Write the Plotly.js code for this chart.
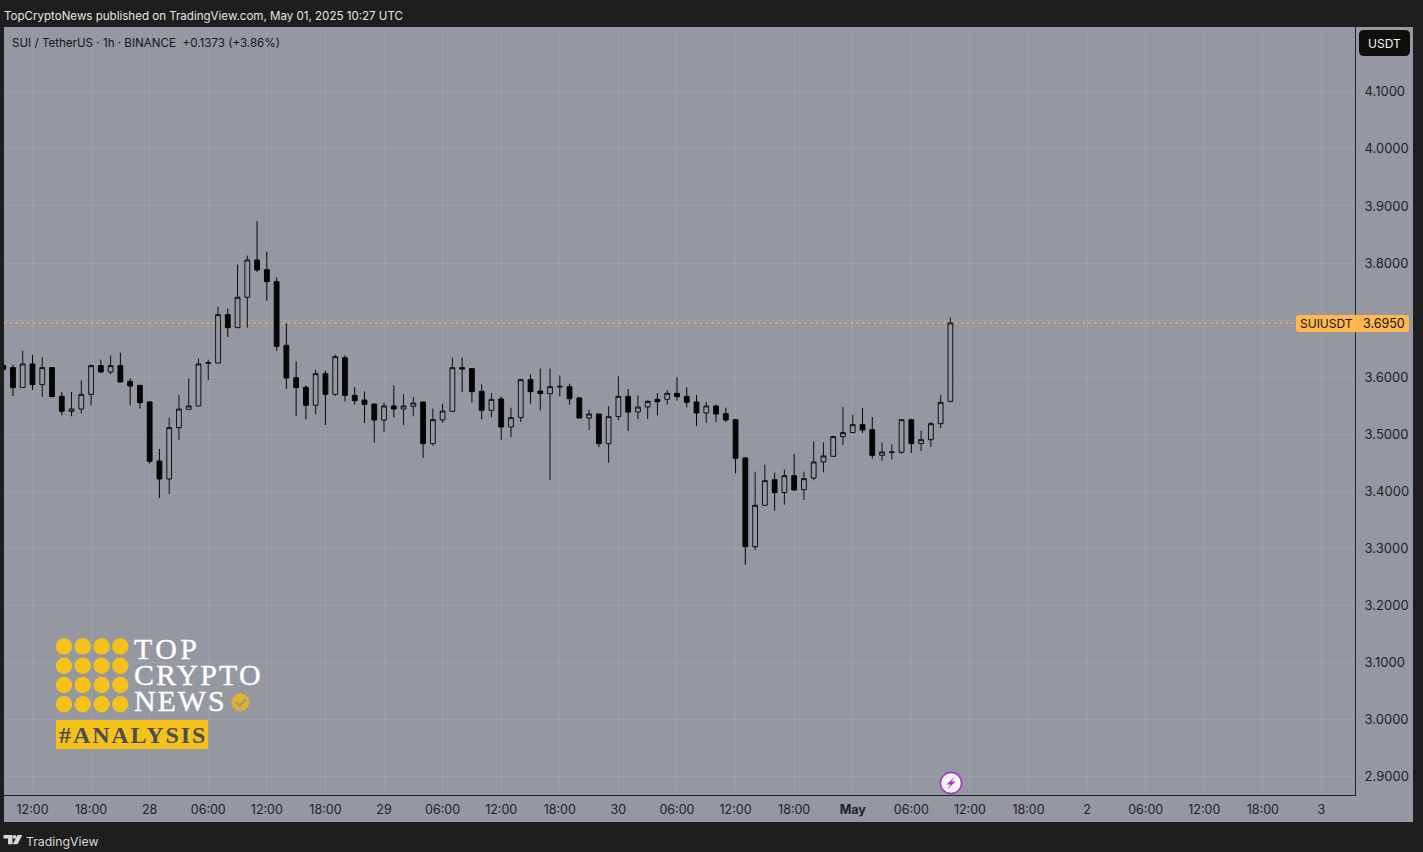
<!DOCTYPE html>
<html><head><meta charset="utf-8">
<script src="https://cdn.plot.ly/plotly-3.0.1.min.js"></script>
<style>html,body{margin:0;padding:0;background:#1e1e1e}#chart{width:1423px;height:852px}</style>
</head><body><div id="chart"></div>
<script>
const times = ['2025-04-27 09:00','2025-04-27 10:00','2025-04-27 11:00','2025-04-27 12:00','2025-04-27 13:00','2025-04-27 14:00','2025-04-27 15:00','2025-04-27 16:00','2025-04-27 17:00','2025-04-27 18:00','2025-04-27 19:00','2025-04-27 20:00','2025-04-27 21:00','2025-04-27 22:00','2025-04-27 23:00',
'2025-04-28 00:00','2025-04-28 01:00','2025-04-28 02:00','2025-04-28 03:00','2025-04-28 04:00','2025-04-28 05:00','2025-04-28 06:00','2025-04-28 07:00','2025-04-28 08:00','2025-04-28 09:00','2025-04-28 10:00','2025-04-28 11:00','2025-04-28 12:00','2025-04-28 13:00','2025-04-28 14:00','2025-04-28 15:00','2025-04-28 16:00','2025-04-28 17:00','2025-04-28 18:00','2025-04-28 19:00','2025-04-28 20:00','2025-04-28 21:00','2025-04-28 22:00','2025-04-28 23:00',
'2025-04-29 00:00','2025-04-29 01:00','2025-04-29 02:00','2025-04-29 03:00','2025-04-29 04:00','2025-04-29 05:00','2025-04-29 06:00','2025-04-29 07:00','2025-04-29 08:00','2025-04-29 09:00','2025-04-29 10:00','2025-04-29 11:00','2025-04-29 12:00','2025-04-29 13:00','2025-04-29 14:00','2025-04-29 15:00','2025-04-29 16:00','2025-04-29 17:00','2025-04-29 18:00','2025-04-29 19:00','2025-04-29 20:00','2025-04-29 21:00','2025-04-29 22:00','2025-04-29 23:00',
'2025-04-30 00:00','2025-04-30 01:00','2025-04-30 02:00','2025-04-30 03:00','2025-04-30 04:00','2025-04-30 05:00','2025-04-30 06:00','2025-04-30 07:00','2025-04-30 08:00','2025-04-30 09:00','2025-04-30 10:00','2025-04-30 11:00','2025-04-30 12:00','2025-04-30 13:00','2025-04-30 14:00','2025-04-30 15:00','2025-04-30 16:00','2025-04-30 17:00','2025-04-30 18:00','2025-04-30 19:00','2025-04-30 20:00','2025-04-30 21:00','2025-04-30 22:00','2025-04-30 23:00',
'2025-05-01 00:00','2025-05-01 01:00','2025-05-01 02:00','2025-05-01 03:00','2025-05-01 04:00','2025-05-01 05:00','2025-05-01 06:00','2025-05-01 07:00','2025-05-01 08:00','2025-05-01 09:00','2025-05-01 10:00'];
const opens = [3.6208,3.6168,3.5817,3.6232,3.5870,3.6168,3.5665,3.5402,3.5443,3.5700,3.6203,3.6092,3.6203,3.5928,3.5858,3.5566,3.4532,3.4217,3.5116,3.5437,3.5496,3.6243,3.6249,3.7096,3.6868,3.7400,3.8054,3.7884,3.7674,3.6559,3.5992,3.5823,3.5508,3.6062,3.5700,3.6342,3.5682,3.5601,3.5531,3.5250,3.5496,3.5443,3.5490,3.5566,3.4836,3.5250,3.5402,3.6167,3.6150,3.5753,3.5420,3.5618,3.5128,3.5291,3.5957,3.5758,3.5712,3.5828,3.5834,3.5636,3.5285,3.5355,3.4836,3.5309,3.5665,3.5390,3.5478,3.5612,3.5613,3.5718,3.5665,3.5566,3.5373,3.5496,3.5362,3.5256,3.4585,3.3031,3.3756,3.4205,3.3978,3.4275,3.4030,3.4234,3.4515,3.4614,3.4959,3.5029,3.5169,3.5081,3.4632,3.4678,3.4684,3.5256,3.4836,3.4906,3.5186,3.5577];
const highs = [3.6208,3.6220,3.6465,3.6395,3.6349,3.6168,3.5741,3.5741,3.5946,3.6220,3.6308,3.6378,3.6430,3.5981,3.5858,3.5584,3.4743,3.5291,3.5689,3.5981,3.6325,3.6308,3.7236,3.7201,3.7972,3.8130,3.8731,3.8200,3.7750,3.6944,3.6273,3.5858,3.6132,3.6115,3.6395,3.6383,3.5823,3.5753,3.5531,3.5554,3.5858,3.5706,3.5653,3.5566,3.5449,3.5536,3.6342,3.6342,3.6161,3.5875,3.5723,3.5665,3.5466,3.5974,3.6050,3.6150,3.6150,3.6033,3.5887,3.5653,3.5431,3.5355,3.5490,3.6015,3.5793,3.5682,3.5595,3.5723,3.5770,3.6000,3.5823,3.5689,3.5566,3.5519,3.5467,3.5268,3.4602,3.4345,3.4468,3.4328,3.4380,3.4655,3.4345,3.4877,3.4859,3.4976,3.5478,3.5344,3.5461,3.5303,3.4859,3.4824,3.5262,3.5274,3.5064,3.5216,3.5689,3.7044];
const lows = [3.6138,3.5671,3.5817,3.5776,3.5659,3.5659,3.5332,3.5315,3.5367,3.5502,3.6074,3.6051,3.5916,3.5502,3.5449,3.4486,3.3884,3.3954,3.4900,3.5437,3.5490,3.5946,3.6249,3.6705,3.6868,3.6868,3.7844,3.7341,3.6465,3.5794,3.5315,3.5262,3.5350,3.5163,3.5671,3.5577,3.5525,3.5198,3.4853,3.5040,3.5297,3.5163,3.5314,3.4590,3.4801,3.5198,3.5402,3.5741,3.5554,3.5262,3.5297,3.4900,3.4947,3.5215,3.5536,3.5420,3.4199,3.5659,3.5519,3.5285,3.5075,3.4777,3.4503,3.5244,3.5058,3.5268,3.5268,3.5332,3.5519,3.5589,3.5473,3.5146,3.5198,3.5216,3.5216,3.4316,3.2716,3.2973,3.3750,3.3662,3.3767,3.4013,3.3849,3.4194,3.4334,3.4608,3.4813,3.5023,3.5023,3.4573,3.4538,3.4561,3.4655,3.4672,3.4708,3.4778,3.5110,3.5560];
const closes = [3.6138,3.5817,3.6232,3.5870,3.6168,3.5659,3.5402,3.5443,3.5700,3.6203,3.6092,3.6203,3.5916,3.5846,3.5554,3.4527,3.4217,3.5116,3.5443,3.5496,3.6232,3.6255,3.7096,3.6868,3.7400,3.8054,3.7879,3.7674,3.6541,3.5986,3.5817,3.5508,3.6062,3.5700,3.6360,3.5682,3.5589,3.5525,3.5250,3.5496,3.5443,3.5496,3.5548,3.4836,3.5256,3.5408,3.6167,3.6144,3.5747,3.5420,3.5612,3.5128,3.5291,3.5957,3.5747,3.5712,3.5834,3.5840,3.5624,3.5285,3.5355,3.4836,3.5309,3.5665,3.5390,3.5478,3.5577,3.5571,3.5718,3.5659,3.5560,3.5373,3.5496,3.5356,3.5251,3.4579,3.3031,3.3756,3.4188,3.3978,3.4275,3.4024,3.4223,3.4515,3.4620,3.4959,3.5029,3.5169,3.5075,3.4632,3.4690,3.4690,3.5256,3.4836,3.4906,3.5186,3.5560,3.6950];
const xTickVals = ['2025-04-27 12:00','2025-04-27 18:00','2025-04-28 00:00','2025-04-28 06:00','2025-04-28 12:00','2025-04-28 18:00','2025-04-29 00:00','2025-04-29 06:00','2025-04-29 12:00','2025-04-29 18:00','2025-04-30 00:00','2025-04-30 06:00','2025-04-30 12:00','2025-04-30 18:00','2025-05-01 00:00','2025-05-01 06:00','2025-05-01 12:00','2025-05-01 18:00','2025-05-02 00:00','2025-05-02 06:00','2025-05-02 12:00','2025-05-02 18:00','2025-05-03 00:00'];
const xTickText = ['12:00','18:00','28','06:00','12:00','18:00','29','06:00','12:00','18:00','30','06:00','12:00','18:00','<b>May</b>','06:00','12:00','18:00','2','06:00','12:00','18:00','3'];
const yTickVals = [2.9,3.0,3.1,3.2,3.3,3.4,3.5,3.6,3.7,3.8,3.9,4.0,4.1];
const yTickText = ['2.9000','3.0000','3.1000','3.2000','3.3000','3.4000','3.5000','3.6000','','3.8000','3.9000','4.0000','4.1000'];
const lastPrice = 3.695;
const xRange = ['2025-04-27 09:05','2025-05-03 03:26'];
const yRange = [2.8681,4.2135];

const BG='#9598a1', DARK='#1e1e1e', INK='#131722', GOLD='#f5c21b', SANS='Inter, Roboto, sans-serif', SERIF='"Liberation Serif", serif';
const L=4,R=1355,T=27,B=795;
const px=x=>(x-L)/(R-L), py=y=>(B-y)/(B-T);
const rrect=(x0,y0,x1,y1,r)=>`M${px(x0+r)},${py(y0)} L${px(x1-r)},${py(y0)} Q${px(x1)},${py(y0)} ${px(x1)},${py(y0+r)} L${px(x1)},${py(y1-r)} Q${px(x1)},${py(y1)} ${px(x1-r)},${py(y1)} L${px(x0+r)},${py(y1)} Q${px(x0)},${py(y1)} ${px(x0)},${py(y1-r)} L${px(x0)},${py(y0+r)} Q${px(x0)},${py(y0)} ${px(x0+r)},${py(y0)} Z`;
const poly=pts=>'M'+pts.map(p=>`${px(p[0])},${py(p[1])}`).join(' L')+' Z';
const paperShape=(o)=>Object.assign({xref:'paper',yref:'paper',line:{width:0}},o);
const circle=(cx,cy,r,fill,line)=>paperShape({type:'circle',x0:px(cx-r),x1:px(cx+r),y0:py(cy+r),y1:py(cy-r),fillcolor:fill,line:line||{width:0}});

const shapes=[
  paperShape({type:'rect',layer:'below',x0:0,x1:px(1413),y0:py(822),y1:1,fillcolor:BG}),
  {type:'line',xref:'paper',yref:'y',layer:'below',x0:0,x1:1,y0:lastPrice,y1:lastPrice,line:{color:'#ffb133',width:1.5,dash:'2px,3.8px'}},
  paperShape({type:'path',path:rrect(1296,315,1409,332,3),fillcolor:'#ffb84d'}),
  paperShape({type:'path',path:rrect(1359,30,1410,56,5),fillcolor:'#0e0e0e'}),
  paperShape({type:'rect',x0:px(56),x1:px(208),y0:py(749),y1:py(720),fillcolor:GOLD}),
];
[64,82.7,101.6,120.3].forEach(cx=>[646.4,665.7,685,704.3].forEach(cy=>shapes.push(circle(cx,cy,8.2,GOLD))));
// verified badge
const star=[];for(let i=0;i<24;i++){const a=i*Math.PI/12,r=i%2?8:9.8;star.push([240.5+r*Math.cos(a),702.3+r*Math.sin(a)]);}
shapes.push(paperShape({type:'path',path:poly(star),fillcolor:'#e3b32b'}));
shapes.push(paperShape({type:'path',path:`M${px(235.5)},${py(702)} L${px(239.5)},${py(706)} L${px(246)},${py(699)}`,line:{color:'#a09a86',width:2.4}}));
// bolt marker
shapes.push(circle(951,783,10.6,'#f4f2f6',{color:'#a23cc0',width:1.6}));
shapes.push(paperShape({type:'path',path:poly([[955,776.5],[946.5,784.5],[950.5,784.5],[947,789.5],[955.5,781.5],[951.5,781.5]]),fillcolor:'#a23cc0'}));
// TradingView mark
shapes.push(paperShape({type:'path',path:poly([[3.5,835],[12.5,835],[12.5,844.2],[8,844.2],[8,838.6],[3.5,838.6]]),fillcolor:'#d8d8d8'}));
shapes.push(circle(14.6,836.8,1.9,'#d8d8d8'));
shapes.push(paperShape({type:'path',path:poly([[17.5,835],[22.3,835],[17.5,844.2],[12.8,844.2]]),fillcolor:'#d8d8d8'}));

const txt=(x,y,text,size,color,family,anchor)=>({xref:'paper',yref:'paper',x:px(x),y:py(y),text,showarrow:false,xanchor:anchor||'left',yanchor:'middle',font:{size,color,family},borderpad:0,borderwidth:0});
const serifSpan=(t,s)=>`<span style="letter-spacing:${s}px;stroke:#ffffff;stroke-width:0.35px">${t}</span>`;
const annotations=[
  txt(4,15.6,'TopCryptoNews published on TradingView.com, May 01, 2025 10:27 UTC',11.55,'#e4e4e4',SANS),
  txt(12,42.6,'SUI / TetherUS · 1h · BINANCE&nbsp;&nbsp;+0.1373 (+3.86%)',11.6,INK,SANS),
  txt(1384.5,43,'USDT',12,'#f2f2f2',SANS,'center'),
  txt(1326,323.5,'SUIUSDT',12,INK,SANS,'center'),
  txt(1384,323.5,'3.6950',12.5,INK,SANS,'center'),
  txt(134,648,serifSpan('TOP',3.4),30,'#ffffff',SERIF),
  txt(134,674,serifSpan('CRYPTO',2.1),30,'#ffffff',SERIF),
  txt(134,700.5,serifSpan('NEWS',1.9),30,'#ffffff',SERIF),
  txt(58.5,735,'<b><span style="letter-spacing:1.9px">#ANALYSIS</span></b>',24,'#4b4e57',SERIF),
  txt(26,841,'TradingView',12.3,'#d6d6d6',SANS),
];

const data=[{type:'candlestick',x:times,open:opens,high:highs,low:lows,close:closes,
  increasing:{line:{color:'#101010',width:1},fillcolor:BG},
  decreasing:{line:{color:'#050505',width:1},fillcolor:'#050505'},
  whiskerwidth:0,hoverinfo:'none'}];
const layout={
  width:1423,height:852,paper_bgcolor:DARK,plot_bgcolor:BG,showlegend:false,dragmode:false,
  margin:{l:L,r:1423-R,t:T,b:852-B,pad:0},
  font:{family:SANS,size:12,color:'#1f222b'},
  xaxis:{type:'date',range:xRange,rangeslider:{visible:false},tickmode:'array',tickvals:xTickVals,ticktext:xTickText,
    showgrid:true,gridcolor:'rgba(255,255,255,0.07)',gridwidth:1,zeroline:false,showline:true,linecolor:'#1f222b',linewidth:1,ticks:'outside',ticklen:3,tickcolor:'rgba(0,0,0,0)',tickangle:0,
    tickfont:{size:12.5,color:'#1f222b',family:SANS}},
  yaxis:{side:'right',range:yRange,tickmode:'array',tickvals:yTickVals,ticktext:yTickText,
    showgrid:true,gridcolor:'rgba(255,255,255,0.07)',gridwidth:1,zeroline:false,showline:true,linecolor:'#1f222b',linewidth:1,ticks:'outside',ticklen:6,tickcolor:'rgba(0,0,0,0)',
    tickfont:{size:13,color:'#1f222b',family:SANS}},
  shapes,annotations
};
Plotly.newPlot('chart',data,layout,{displayModeBar:false,responsive:false,staticPlot:true});
</script></body></html>
